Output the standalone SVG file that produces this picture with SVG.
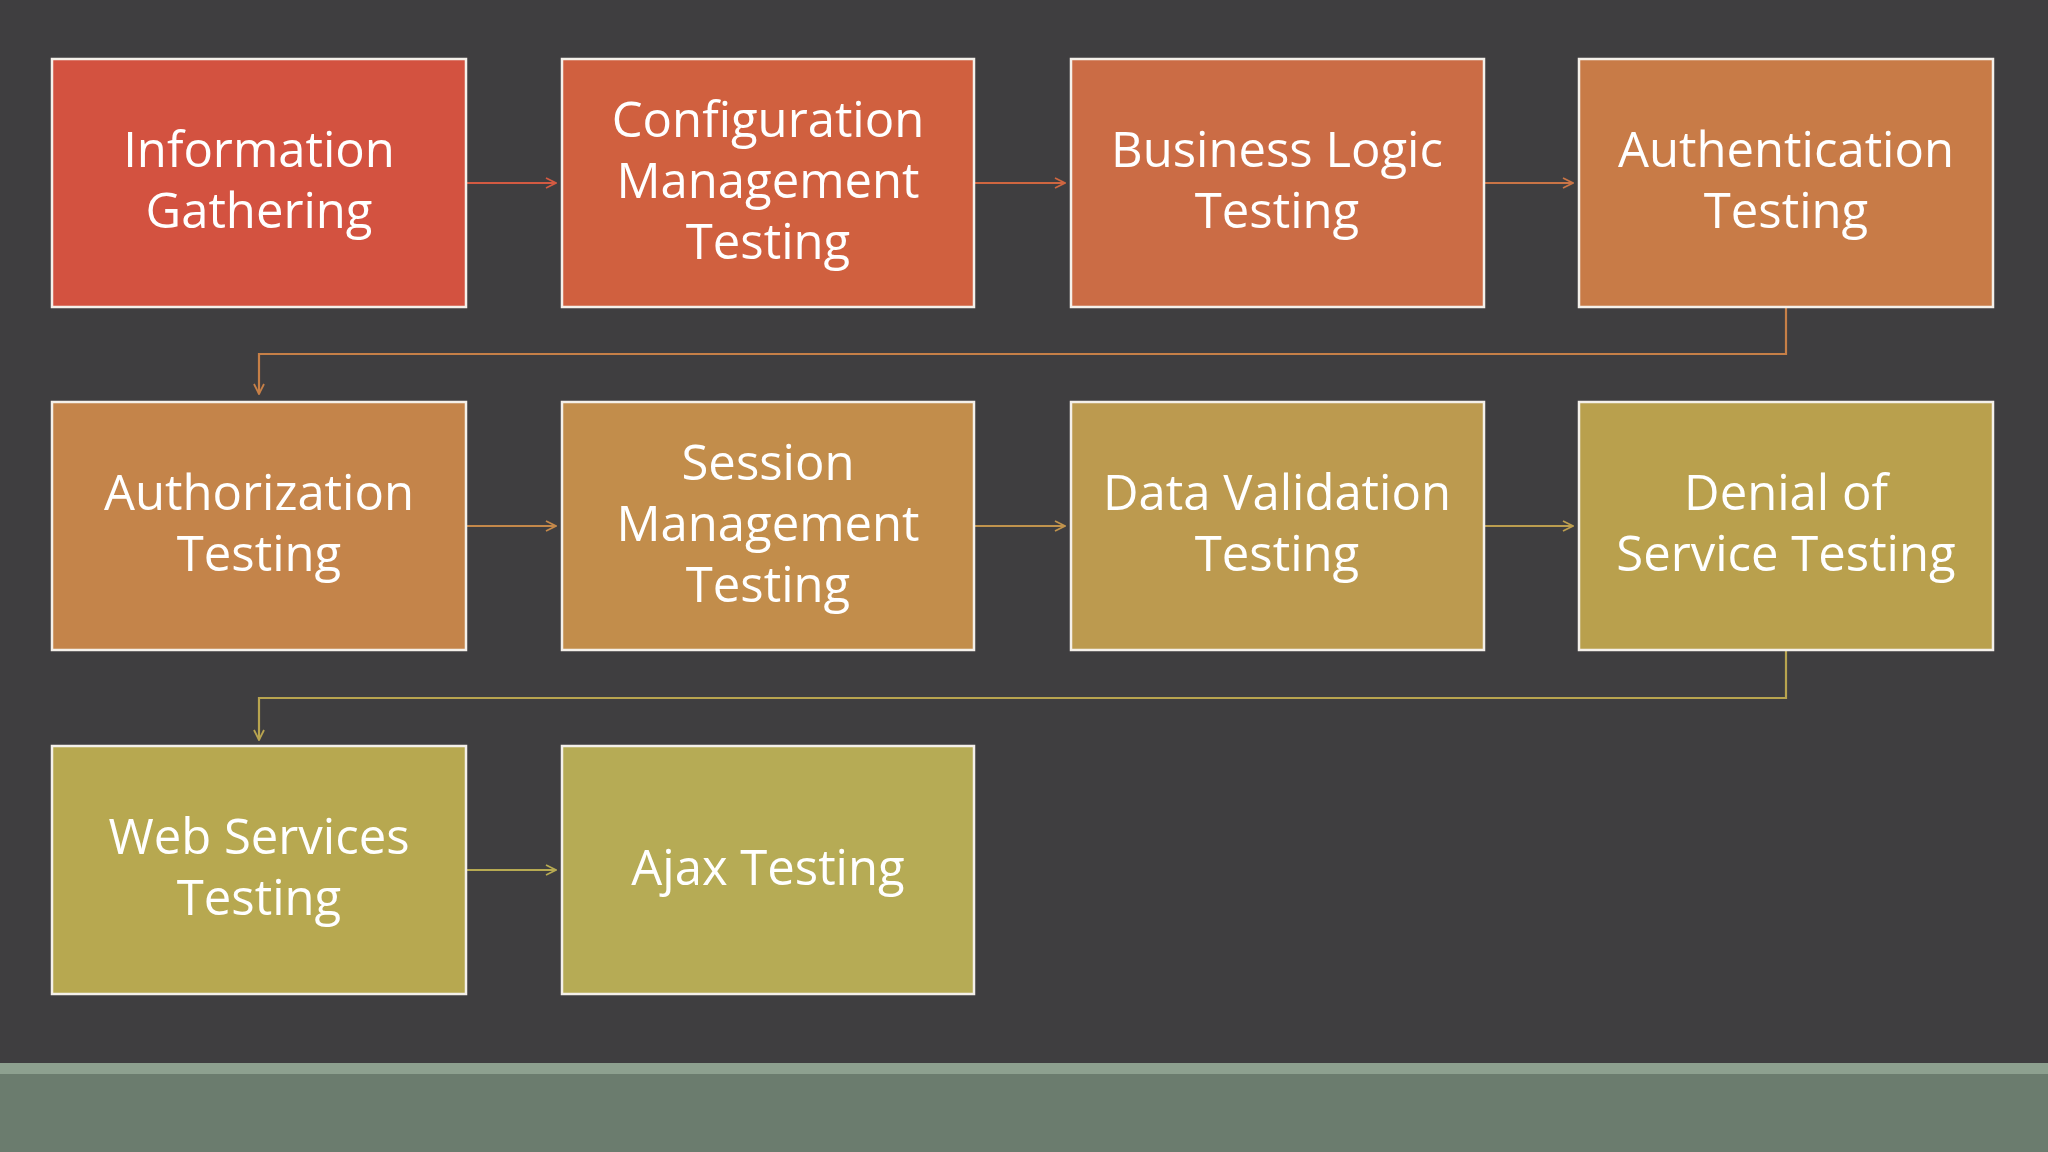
<svg xmlns="http://www.w3.org/2000/svg" width="2048" height="1152" viewBox="0 0 2048 1152">
<defs>
<style>
.b{stroke:#f4f0ea;stroke-width:2.5}
.t{font-family:"Open Sans","Noto Sans",sans-serif;font-size:49px;fill:#fff;text-anchor:middle}
.c{fill:none;stroke-width:2.2}
</style>
<marker id="a" viewBox="0 0 12 12" refX="11" refY="6" markerWidth="12" markerHeight="12" markerUnits="userSpaceOnUse" orient="auto"><path d="M1 1L11 6L1 11" fill="none" stroke="context-stroke" stroke-width="1.8"/></marker>
</defs>
<rect width="2048" height="1152" fill="#3f3e40"/>
<rect y="1063" width="2048" height="11" fill="#8da08f"/>
<rect y="1074" width="2048" height="78" fill="#6b7c6e"/>
<g id="connectors">
<path class="c" stroke="#d35a42" d="M466 183H556" marker-end="url(#a)"/>
<path class="c" stroke="#cf6640" d="M974 183H1065" marker-end="url(#a)"/>
<path class="c" stroke="#c97446" d="M1484 183H1573" marker-end="url(#a)"/>
<path class="c" stroke="#c67f47" d="M1786 307V354H259V394" marker-end="url(#a)"/>
<path class="c" stroke="#c4884a" d="M466 526H556" marker-end="url(#a)"/>
<path class="c" stroke="#c0934d" d="M974 526H1065" marker-end="url(#a)"/>
<path class="c" stroke="#bb9d4f" d="M1484 526H1573" marker-end="url(#a)"/>
<path class="c" stroke="#b8a44f" d="M1786 650V698H259V740" marker-end="url(#a)"/>
<path class="c" stroke="#b7aa52" d="M466 870H556" marker-end="url(#a)"/>
</g>
<g id="n1"><rect class="b" x="52" y="59" width="414" height="248" fill="#d35240"/><text class="t" x="259" y="167">Information</text><text class="t" x="259" y="228">Gathering</text></g>
<g id="n2"><rect class="b" x="562" y="59" width="412" height="248" fill="#d0603f"/><text class="t" x="768" y="137">Configuration</text><text class="t" x="768" y="198">Management</text><text class="t" x="768" y="259">Testing</text></g>
<g id="n3"><rect class="b" x="1071" y="59" width="413" height="248" fill="#cb6c45"/><text class="t" x="1277" y="167">Business Logic</text><text class="t" x="1277" y="228">Testing</text></g>
<g id="n4"><rect class="b" x="1579" y="59" width="414" height="248" fill="#c87b47"/><text class="t" x="1786" y="167">Authentication</text><text class="t" x="1786" y="228">Testing</text></g>
<g id="n5"><rect class="b" x="52" y="402" width="414" height="248" fill="#c4844a"/><text class="t" x="259" y="510">Authorization</text><text class="t" x="259" y="571">Testing</text></g>
<g id="n6"><rect class="b" x="562" y="402" width="412" height="248" fill="#c28d4b"/><text class="t" x="768" y="480">Session</text><text class="t" x="768" y="541">Management</text><text class="t" x="768" y="602">Testing</text></g>
<g id="n7"><rect class="b" x="1071" y="402" width="413" height="248" fill="#bc9a4f"/><text class="t" x="1277" y="510">Data Validation</text><text class="t" x="1277" y="571">Testing</text></g>
<g id="n8"><rect class="b" x="1579" y="402" width="414" height="248" fill="#b9a04d"/><text class="t" x="1786" y="510">Denial of</text><text class="t" x="1786" y="571">Service Testing</text></g>
<g id="n9"><rect class="b" x="52" y="746" width="414" height="248" fill="#b7a850"/><text class="t" x="259" y="854">Web Services</text><text class="t" x="259" y="915">Testing</text></g>
<g id="n10"><rect class="b" x="562" y="746" width="412" height="248" fill="#b6ab55"/><text class="t" x="768" y="885">Ajax Testing</text></g>
</svg>
